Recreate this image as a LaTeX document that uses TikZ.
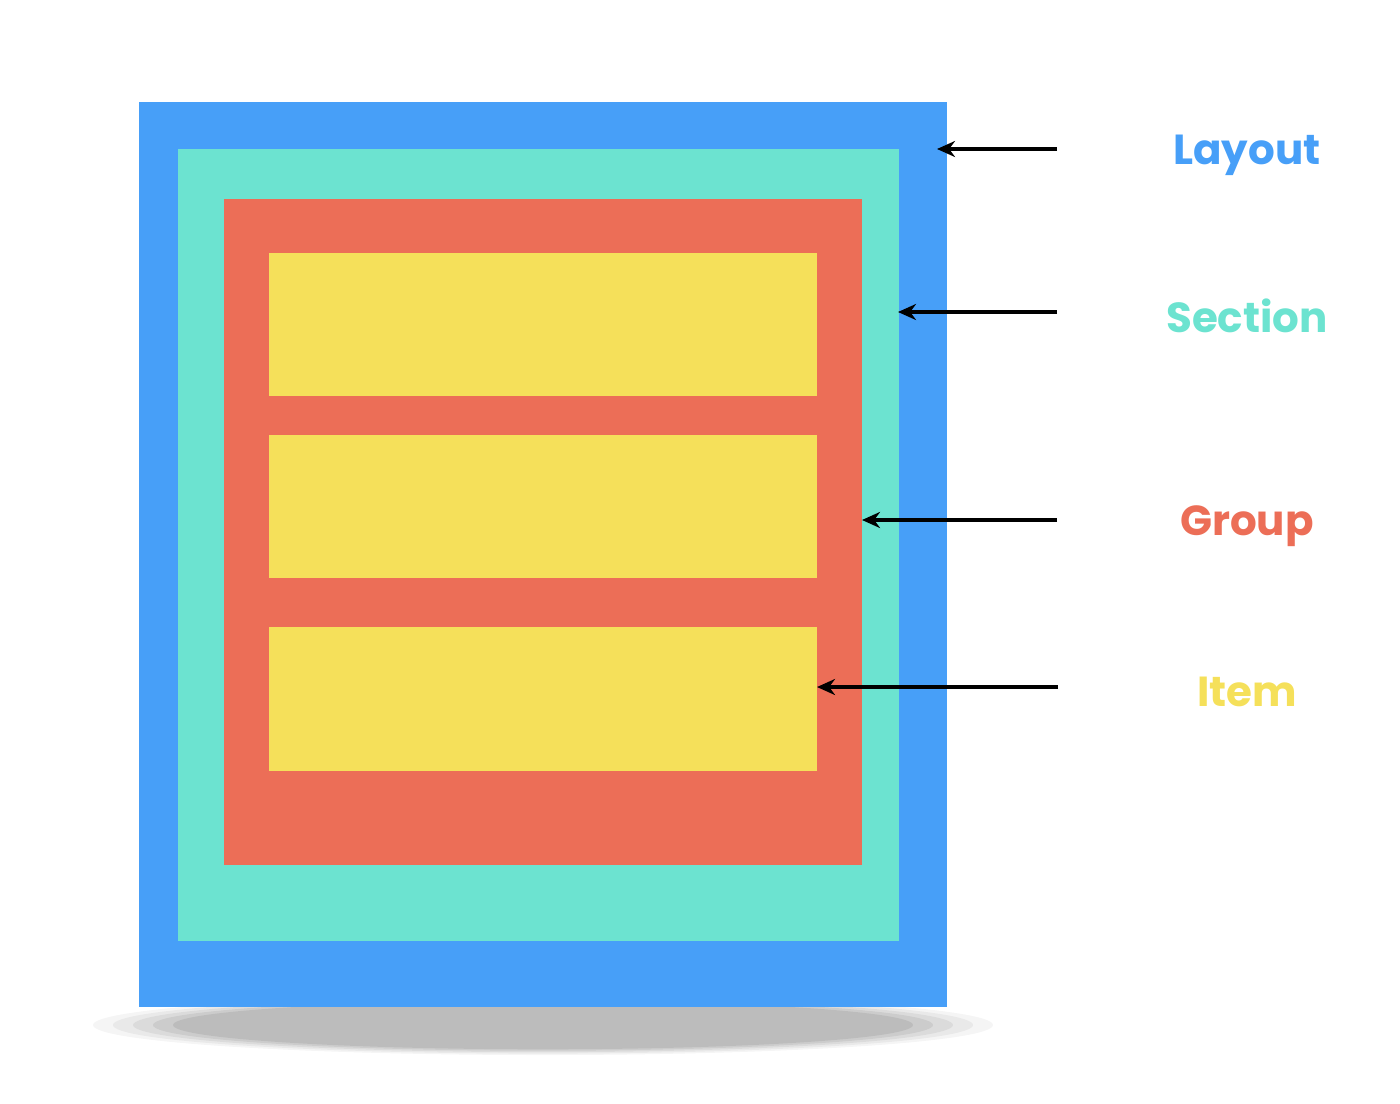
\documentclass[tikz,border=0pt]{standalone}
\usepackage{fontspec}
\setmainfont{Poppins}
\usetikzlibrary{arrows.meta}
\definecolor{cblue}{HTML}{479FF8}
\definecolor{cteal}{HTML}{6CE3D0}
\definecolor{cred}{HTML}{EC6E57}
\definecolor{cyel}{HTML}{F5E05A}
\begin{document}
\begin{tikzpicture}[x=0.5pt,y=-0.5pt,
  box/.style={fill=#1,draw=none},
  lbl/.style={font=\fontsize{21}{24}\selectfont\bfseries,text=#1},
  arr/.style={-{Stealth[length=9pt,width=8pt]},line width=1.6pt}]
\useasboundingbox (0,0) rectangle (1400,1103);
\foreach \r/\o in {420/0.04,400/0.05,380/0.06,360/0.07,340/0.08}{
  \fill[black,opacity=\o] (543,1025) ellipse ({\r+30} and {\r/14});}
\fill[box=cblue] (139,102) rectangle (947,1007);
\fill[box=cteal] (178,149) rectangle (899,941);
\fill[box=cred] (224,199) rectangle (862,865);
\fill[box=cyel] (269,253) rectangle (817,396);
\fill[box=cyel] (269,435) rectangle (817,578);
\fill[box=cyel] (269,627) rectangle (817,771);
\coordinate (a1) at (1057,149); \coordinate (b1) at (937,149);
\coordinate (a2) at (1057,312); \coordinate (b2) at (898,312);
\coordinate (a3) at (1057,520); \coordinate (b3) at (862,520);
\coordinate (a4) at (1058,687); \coordinate (b4) at (817,687);
\draw[arr] (a1) -- (b1);
\draw[arr] (a2) -- (b2);
\draw[arr] (a3) -- (b3);
\draw[arr] (a4) -- (b4);
\node[lbl=cblue] (l1) at (1247,155) {Layout};
\node[lbl=cteal] (l2) at (1247,316) {Section};
\node[lbl=cred] (l3) at (1247,526) {Group};
\node[lbl=cyel] (l4) at (1247,692) {Item};
\end{tikzpicture}
\end{document}
